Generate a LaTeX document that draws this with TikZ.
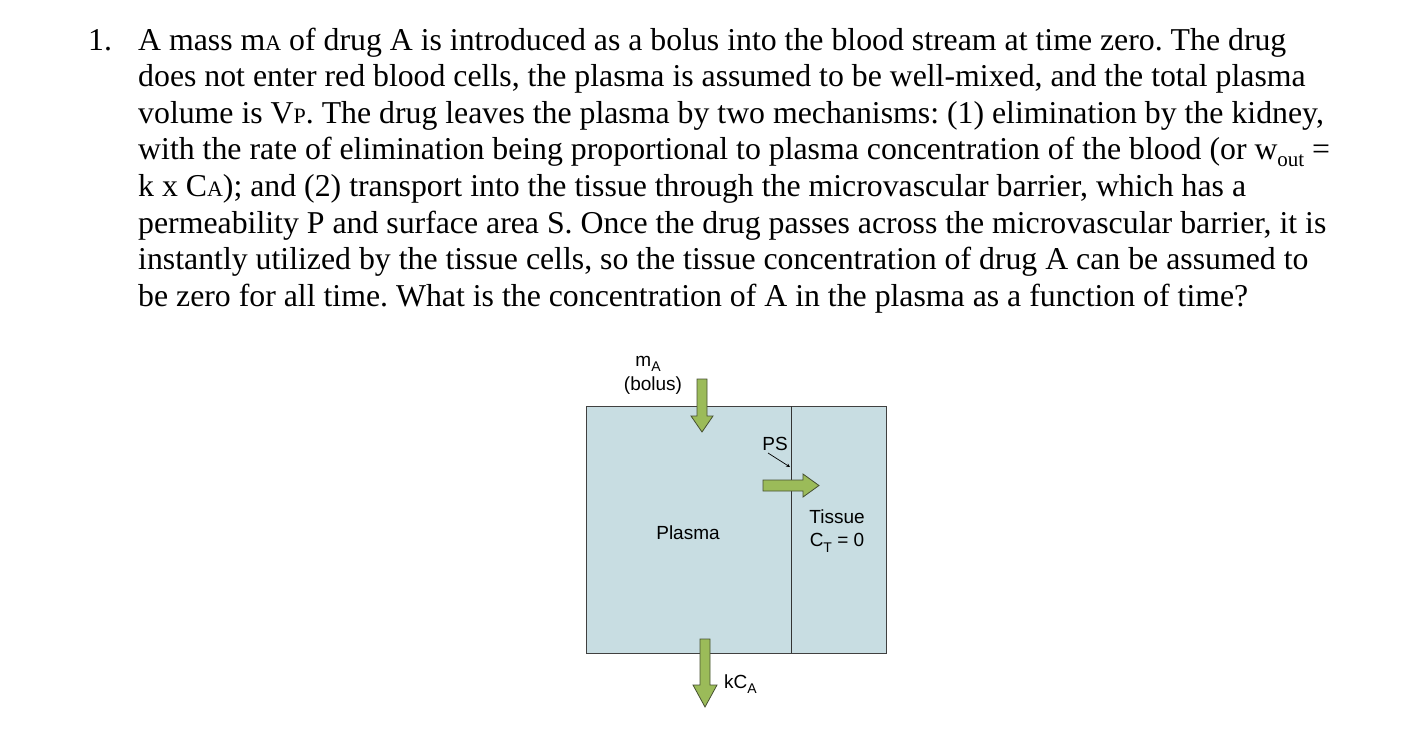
\documentclass[tikz,border=0pt]{standalone}
\usepackage{fontspec}
\setmainfont{Liberation Serif}
\newfontfamily\arialf{Liberation Sans}
\frenchspacing
\begin{document}
\begin{tikzpicture}[x=1pt,y=-1pt,
  ln/.style={anchor=base west,inner sep=0pt,font=\fontsize{31.8}{36}\selectfont},
  lab/.style={inner sep=0pt,font=\arialf\fontsize{19}{22}\selectfont},
  garrow/.style={fill=arrowgreen,draw=arrowdark,line width=0.8pt,line join=miter}]
\definecolor{boxfill}{RGB}{200,221,226}
\definecolor{arrowgreen}{RGB}{155,187,89}
\definecolor{arrowdark}{RGB}{70,80,50}
\useasboundingbox (0,0) rectangle (1408,750);
\newcommand{\smc}[1]{{\fontsize{22}{22}\selectfont #1}}
\node[ln] (n) at (88,50) {1.};
\node[ln] (l1) at (138,50) {A mass m\smc{A} of drug A is introduced as a bolus into the blood stream at time zero. The drug};
\node[ln] (l2) at (138,86.6) {does not enter red blood cells, the plasma is assumed to be well-mixed, and the total plasma};
\node[ln] (l3) at (138,123.2) {volume is V\smc{P}. The drug leaves the plasma by two mechanisms: (1) elimination by the kidney,};
\node[ln] (l4) at (138,159.8) {with the rate of elimination being proportional to plasma concentration of the blood (or w\raisebox{-0.2em}{\fontsize{21}{22}\selectfont out} =};
\node[ln] (l5) at (138,196.4) {k x C\smc{A}); and (2) transport into the tissue through the microvascular barrier, which has a};
\node[ln] (l6) at (138,233) {permeability P and surface area S. Once the drug passes across the microvascular barrier, it is};
\node[ln] (l7) at (138,269.6) {instantly utilized by the tissue cells, so the tissue concentration of drug A can be assumed to};
\node[ln] (l8) at (138,306.2) {be zero for all time. What is the concentration of A in the plasma as a function of time?};
% diagram
\draw[fill=boxfill,draw=black!75,line width=0.8pt] (586,406) rectangle (886,653);
\coordinate (dtop) at (791,406);
\coordinate (dbot) at (791,653);
\draw[black!80,line width=0.8pt] (dtop) -- (dbot);
\node[lab] (plasma) at (688,533) {Plasma};
\node[lab,align=center] (tissue) at (837,531) {Tissue\\[1pt]C\raisebox{-0.3em}{\fontsize{14}{14}\selectfont T} = 0};
\node[lab] (ma) at (648,364) {m\raisebox{-0.3em}{\fontsize{14}{14}\selectfont A}};
\node[lab] (bolus) at (653,386) {(bolus)};
\node[lab,anchor=west] (kca) at (724,684) {kC\raisebox{-0.3em}{\fontsize{14}{14}\selectfont A}};
\node[lab] (ps) at (775,444) {PS};
\coordinate (psend) at (790,467);
\draw[-stealth,line width=0.7pt] (768,453) -- (psend);
% green arrows
\draw[garrow] (697,379) -- (707,379) -- (707,416) -- (713,416) -- (702,432) -- (691,416) -- (697,416) -- cycle;
\draw[garrow] (700,639) -- (710,639) -- (710,685) -- (717,685) -- (705,707) -- (693,685) -- (700,685) -- cycle;
\draw[garrow] (763,480) -- (803,480) -- (803,474) -- (819,485.5) -- (803,497) -- (803,491) -- (763,491) -- cycle;
\end{tikzpicture}
\end{document}
